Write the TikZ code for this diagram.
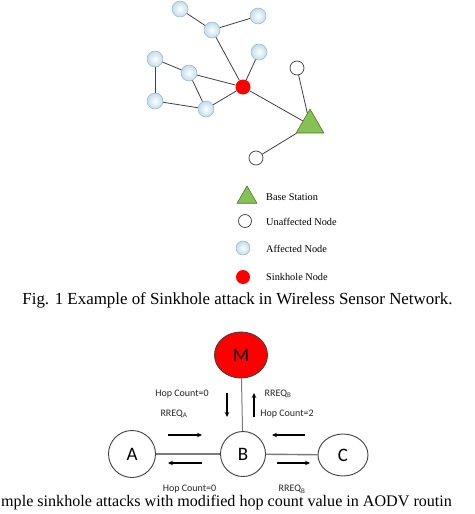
\documentclass[tikz,border=0pt]{standalone}
\usepackage{fontspec}
\setmainfont{Liberation Serif}
\newfontfamily\lblfont{Carlito}
\usetikzlibrary{shapes.geometric,arrows.meta}
\definecolor{affblue}{HTML}{BFDDEE}
\definecolor{affedge}{HTML}{9DB4C0}
\definecolor{sinkred}{HTML}{FF0000}
\definecolor{basegreen}{HTML}{86C155}
\definecolor{baseedge}{HTML}{4E7A2C}
\definecolor{edgegray}{HTML}{404040}
\definecolor{linegray}{HTML}{7A7A7A}
\tikzset{
  x=1pt, y=-1pt,
  aff/.style={circle, inner sep=0pt, minimum size=16pt, draw=affedge, line width=0.5pt, inner color=white, outer color=affblue},
  unaff/.style={circle, inner sep=0pt, minimum size=14pt, draw=edgegray, line width=0.7pt, fill=white},
  sinknode/.style={circle, inner sep=0pt, minimum size=15pt, fill=sinkred},
  basenode/.style={regular polygon, regular polygon sides=3, inner sep=0pt, fill=basegreen, draw=baseedge, line width=0.6pt},
  net/.style={draw=edgegray, line width=0.8pt},
  legtext/.style={anchor=west, font=\fontsize{10.3}{12}\selectfont, inner sep=0pt},
  bignode/.style={draw=edgegray, line width=0.9pt, fill=white, font=\lblfont\fontsize{19}{21}\selectfont, inner sep=0pt},
  link/.style={draw=linegray, line width=1.4pt},
  msg/.style={draw=black, line width=1.1pt, -{Stealth[length=5pt,width=4.5pt]}},
  lbl/.style={font=\lblfont\fontsize{10}{12}\selectfont, inner sep=0pt, text=black!85},
  caption/.style={inner sep=0pt}
}
\begin{document}
\begin{tikzpicture}
\useasboundingbox (0,0) rectangle (474,514);
\clip (0,0) rectangle (474,514);
% --- network ---
\node[aff] (n1) at (180,9) {};
\node[aff] (n2) at (212,30) {};
\node[aff] (n3) at (258,16) {};
\node[aff] (n4) at (259,52) {};
\node[aff] (n5) at (155,59) {};
\node[aff] (n6) at (189,73) {};
\node[aff] (n7) at (155,101) {};
\node[aff] (n8) at (206,109) {};
\node[sinknode] (sk) at (243,87) {};
\node[unaff] (u1) at (297,68) {};
\node[unaff] (u2) at (256,158) {};
\node[basenode, minimum size=32pt] (bs) at (310,125) {};
\draw[net] (n1) -- (n2);
\draw[net] (n2) -- (n3);
\draw[net] (n2) -- (sk);
\draw[net] (n4) -- (sk);
\draw[net] (n5) -- (n6);
\draw[net] (n5) -- (n7);
\draw[net] (n6) -- (sk);
\draw[net] (n6) -- (n8);
\draw[net] (n7) -- (n8);
\draw[net] (n8) -- (sk);
\draw[net] (sk) -- (bs);
\draw[net] (u1) -- (bs);
\draw[net] (u2) -- (bs);
% --- legend ---
\node[basenode, minimum size=23pt] (lb) at (247,197.5) {};
\node[unaff, minimum size=13pt] (lu) at (245,221) {};
\node[aff, minimum size=14pt] (la) at (243,248) {};
\node[sinknode, minimum size=14pt] (ls) at (243,277) {};
\node[legtext] (tb) at (266,197) {Base Station};
\node[legtext] (tu) at (266,222) {Unaffected Node};
\node[legtext] (ta) at (266,249) {Affected Node};
\node[legtext] (ts) at (266,277) {Sinkhole Node};
% --- caption 1 ---
\node[caption, font=\fontsize{16.9}{19}\selectfont] (cap1) at (237.5,300) {Fig. 1 Example of Sinkhole attack in Wireless Sensor Network.};
% --- AODV figure ---
\node[bignode, ellipse, fill=sinkred, minimum width=53pt, minimum height=46pt] (M) at (241,355) {M};
\node[bignode, circle, minimum size=47pt] (A) at (132,454) {A};
\node[bignode, circle, minimum size=45pt] (B) at (243,454) {B};
\node[bignode, ellipse, minimum width=50pt, minimum height=42pt] (C) at (343,455) {C};
\draw[link, line width=1pt] (M) -- (B);
\draw[link] (A) -- (B);
\draw[link] (B) -- (C);
% arrows
\coordinate (d1) at (227,393); \coordinate (d2) at (227,417);
\coordinate (u1a) at (254,417); \coordinate (u2a) at (254,393);
\coordinate (ab1) at (168,435); \coordinate (ab2) at (202,435);
\coordinate (ab3) at (202,463); \coordinate (ab4) at (168,463);
\coordinate (bc1) at (305,435); \coordinate (bc2) at (272,435);
\coordinate (bc3) at (277,463); \coordinate (bc4) at (310,463);
\draw[msg] (d1) -- (d2);
\draw[msg] (u1a) -- (u2a);
\draw[msg] (ab1) -- (ab2);
\draw[msg] (ab3) -- (ab4);
\draw[msg] (bc1) -- (bc2);
\draw[msg] (bc3) -- (bc4);
% labels
\node[lbl] (l1) at (182,394) {Hop Count=0};
\node[lbl] (l2) at (174,414) {RREQ\textsubscript{A}};
\node[lbl] (l3) at (278,394) {RREQ\textsubscript{B}};
\node[lbl] (l4) at (287,414) {Hop Count=2};
\node[lbl] (l5) at (189.5,489) {Hop Count=0};
\node[lbl] (l6) at (292,489) {RREQ\textsubscript{B}};
% --- caption 2 (cut off) ---
\node[caption, anchor=west, font=\fontsize{16.1}{19}\selectfont] (cap2) at (1,503) {mple sinkhole attacks with modified hop count value in AODV routin};
\end{tikzpicture}
\end{document}
